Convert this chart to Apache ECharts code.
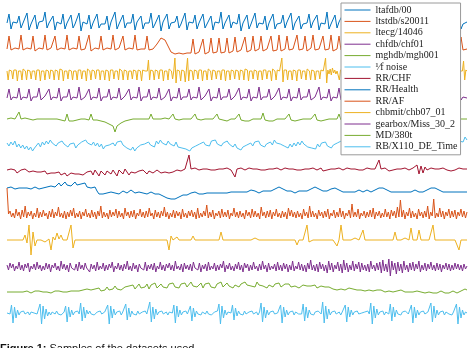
<!DOCTYPE html>
<html><head><meta charset="utf-8">
<script src="https://cdn.jsdelivr.net/npm/echarts@6/dist/echarts.min.js"></script>
<style>html,body{margin:0;padding:0;background:#fff}#c{width:474px;height:348px}</style>
</head><body><div id="c"></div>
<script>
const names = ['ltafdb/00','ltstdb/s20011','ltecg/14046','chfdb/chf01','mghdb/mgh001','1/f noise','RR/CHF','RR/Health','RR/AF','chbmit/chb07_01','gearbox/Miss_30_2','MD/380t','RB/X110_DE_Time'];
const colors = ['#0072BD','#D95319','#EDB120','#7E2F8E','#77AC30','#4DBEEE','#A2142F','#0072BD','#D95319','#EDB120','#7E2F8E','#77AC30','#4DBEEE'];
const centers = [24,49,71,98,119,145,171,191,214,240,267,288,313];

const ltafdb = [1,10,-5,2, 0,1,8,-4,1, 2,11,-6,0, 1,9,-5,2,0, 3,12,-4,1, 0,8,-6,2, 1,0,10,-5,1, 2,9,-4,0, 1,11,-7,2,1, 0,9,-5,1, 2,10,-4,0, 1,0,8,-6,2, 1,12,-5,0, 2,9,-4,1,0, 1,10,-6,2, 0,8,-5,1, 2,1,11,-4,0, 1,9,-7,2, 0,10,-5,1,1, 2,8,-4,0, 1,11,-6,2, 0,1,9,-5,1, 2,10,-4,0, 1,8,-6,2,0, 1,12,-5,1, 0,9,-4,2, 1,0,10,-7,1, 2,9,-5,0, 1,11,-4,1,2, 0,8,-6,1, 2,10,-5,0, 1,1,9,-4,2, 0,11,-6,1, 2,8,-5,0,1, 1,10,-4,2, 0,9,-6,1, 2,0,12,-5,0, 1,9,-4,2, 0,10,-6,1,1, 2,8,-5,0, 1,11,-4,2, 0,1,9,-6,1, 2,10,-5,0, 1,8,-4,1,2, 0,11,-6,1, 2,9,-5,0, 1,0,10,-4,2, 0,9,-6,1, 2,11,-5,0,1, 1,8,-4,2, 0,10,-6,1, 2,1,9,-5,0, 1,2];

const ltstdb = [0,13,-1,0,1,0, 0,14,-1,1,1,0, 0,13,-2,0,1, 0,0,14,-1,1,1, 0,13,-1,0,1,0, 0,14,-1,0,1, 0,0,13,-1,1,0, 0,14,-2,0,1,0, 0,13,-1,1,1, 0,0,14,-1,0,1, 0,13,-1,0,1,0, 0,14,-1,1,0, 0,0,13,-1,1,0, 2,5,8,11,12,9,5,1,-3,-4,-5,-4, -4,-4,-5,-4,-4,-4, -4,10,-5,-4,-3, -4,10,-5,-3, -3,11,-4,-3, -3,11,-4,-2, -3,11,-4,-2,-2, 12,-3,-2,-1, -2,12,-3,-1, -1,13,-2,-1,0, 13,-2,-1,0, -1,13,-2,0, -1,14,-2,0,0, 13,-1,0,0, 0,14,-1,0, 0,13,-2,0,1, 14,-1,0,0, 0,13,-1,1, 0,14,-2,0,0, 13,-1,0,1, 0,14,-1,0, 0,13,-1,0,1, 14,-2,0,0, 0,13,-1,1, 0,14,-1,0,0, 13,-1,0,1, 0,14,-2,0, 0,13,-1,0,1, 14,-1,0,0, 0,13,-1,1, 0,14,-2,0,0, 13,-1,0,1, 0,14,-1,0, 0,12,-1,0,0];

const ltecg = [
 0,-9,1,0, 0,-8,1,0, 1,-10,0,0, 0,-9,2,0, 0,-9,1,0, 0,-8,0,1, 0,-9,1,0, 1,-10,0,0, 0,-9,1,0, 0,-8,1,0,
 0,-9,1,0, 0,-9,2,0, 1,-10,0,0, 0,-8,1,0, 0,-9,0,1, 0,-9,1,0, 1,-8,0,0, 0,-10,2,0, 0,-9,1,0, 0,-8,1,0,
 1,-9,0,0, 0,-9,1,0, 0,-10,1,0, 1,-8,0,0, 0,-9,2,0, 0,-9,1,0, 0,-9,0,1, 0,-8,1,0, 0,-9,1,0, 0,-10,1,0,
 0,0,0, 11,-9,1,0,
 0,-9,1,0, 0,-8,1,0, 1,-10,0,0, 0,-9,2,0, 0,-8,0,
 13,-12,1,0, 0,-10,1,0, 0,-11,1, 13,-10,1,0,
 0,-9,1,0, 0,-8,1,0, 1,-10,0,0, 0,-9,2,0, 0,-9,1,0, 0,-8,0,1, 0,-9,1,0, 1,-10,0,0, 0,-9,1,0, 0,-8,1,0,
 0,-9,1,0, 0,-9,2,0, 1,-10,0,0, 0,-8,1,0, 0,-9,0,1, 0,-9,1,0, 1,-8,0,0, 0,-10,2,0, 0,-9,1,0, 0,0,
 13,-11,1,0,
 1,-9,0,0, 0,-9,1,0, 0,-10,1,0, 1,-8,0,0, 0,-9,2,0, 0,-9,1,0, 0,-9,0,1, 0,-8,1,0, 0,0,
 13,-12,1, -3,2,-4,3,-2,1,-3,0,
 0,-9,1,0, 0,-8,1,0, 1,-10,0,0, 0,-9,2,0, 0,-9,1,0, 0,-8,0,1, 0,-9,1,0, 1,-10,0,0, 0,-9,1,0, 0,-8,1,0,
 0,-9,1,0, 0,-9,2,0, 1,-10,0,0, 0,-8,1,0, 0,-9,0,1, 0,-9,1,0, 1,-8,0,0, 0,-10,2,0, 0,-9,1,0, 0,-8,1,0,
 1,-9,0,0, 0,-9,1,0, 0,-10,1,0, 1,-8,0,0, 0,-9,2,0, 0,-9,1,0, 0,-9,0,1, 0,
 10,-9,1,0];

const chfdb = [0,9,-2,1,2, 0,10,-2,1,1, 0,9,-3,1,2, 1,10,-2,0,2, 0,9,-2,1,1, 0,10,-3,1,2, 1,9,-2,1,2, 0,11,-2,0,1, 0,9,-2,1,2, 0,10,-3,1,1,
 1,9,-2,1,2, 0,10,-2,0,2, 0,9,-2,1,1, 0,11,-3,1,2, 1,9,-2,1,2, 0,10,-2,0,1, 0,9,-3,1,2, 0,10,-2,1,2, 1,9,-2,1,1, 0,11,-2,0,2,
 0,9,-3,1,2, 0,10,-2,1,1, 1,9,-2,0,2, 0,10,-2,1,2, 0,9,-3,1,1, 0,11,-2,1,2, 1,9,-2,0,2, 0,10,-2,1,1, 0,9,-3,1,2, 0,10,-2,1,2,
 1,9,-2,0,1, 0,11,-2,1,2, 0,9,-3,1,2, 0,10,-2,0,1, 1,9,-2,1,2, 0,10,-3,1,2, 0,9,-2,1,1, 0,11,-2,0,2, 1,9,-2,1,2, 0,10,-3,1,1,
 0,9,-2,1,2, 0,10,-2,0,2, 1,9,-2,1,1, 0,11,-3,1,2, 0,9,-2,1,2, 0,10,-2,1,1, 0];

const mghdb = [0,0,1,0,0,0,7,0,0,1,0,0, 0,-1,0,0,1,0,0,0,-1,0,0,0, 0,0,-1,-1,-2,-2,5,-2,-2,-2,-1,-1, 0,0,0,0,0,-1,5,-1,0,-1,-1,-2,
 -2,-3,-4,-5,-6,-7,-13,-7,-6,-4,-3,-2, -1,-1,0,0,0,0,0,0,1,0,0,0, 5,0,0,0,0,0,0,1,0,0,0,5, 0,0,-1,0,0,0,0,0,0,0,5,0,
 0,-1,-1,0,0,0,0,0,0,5,0,-1, -1,-2,-2,-1,0,0,0,0,5,-1,-1,-2, -2,-2,-1,0,0,0,0,0,6,-1,-1,-2, -2,-2,-1,0,0,0,0,0,0,5,-1,-2,
 -2,-2,-1,-1,0,0,0,0,0,0,5,-1, -1,-2,-2,-1,0,0,0,0,0,0,5,-1, -1,-2,-2,-1,0,0,0,0,0,0,5,-1, -1,-1,-2,-1,0,0,0,0,0,0,5,0,
 -1,-1,-2,-1,0,0,0,0,0,0,5,0, -1,-1,-2,-1,0,0,0,0,0,0,5,0, -1,-1,-2,-1,0,0,0,0,0,5,0,0, 0,0,0];

const oneOverF = [2,-1,3,0,4,-2,1,-3,0,-4,-1,-5,-2,-6,-3,-1,2,-2,3,0,4,1,5,2,3,-1,2,0,4,1,
 3,-2,1,-1,2,-3,0,-2,3,1,5,2,4,0,3,-1,2,-2,1,-4,-1,-3,0,-2,2,-1,3,1,4,0,
 2,-3,-1,-5,-2,-6,-3,-4,0,-2,1,-1,3,0,2,-2,4,1,5,2,3,0,4,1,2,-1,3,-2,0,-3,
 -1,-4,-2,-6,-3,-5,-1,-3,1,-1,3,0,2,-1,4,2,5,1,3,-1,2,0,4,1,3,-2,1,-3,-1,-5,
 -2,-4,0,-2,2,-1,3,1,4,0,2,-2,1,-1,3,0,5,2,4,1,2,-1,0,-3,1,-2,2,-1,3,0,
 4,1,2,-2,0,-3,-1,-4,1,-2,2,0,3,-1,1,-3,0,-2,2,1,4,2,5,1,3,0,2,-2,1,-1,
 3,0,2,-3,-1,-4,0,-2,2,1,4,0,3,-1,2,-2,0,-4,-2,-3,1,-1,2,0,4,2,3,-1,1,-2,
 0,-3,2,-1,3,1,5,2,4,0,2,-1,3,-2,1,-3,0,-1,2,1,4,6,3,8,5];

const rrChf = [1,-1,2,0,1,-2,0,1,-1,2,0,-1,1,0,2,-1,0,
 -1,-2,0,-3,-1,-2,-4,-2,-3,-1,-4,-3,-2,-5,-3,-2,-4,-3,-1,-3,-2,-4,-2,-1,-3,
 0,-4,1,-1,-5,0,1,-4,0,2,-3,1,0,-5,1,0,-3,2,0,-4,
 -1,0,-2,-1,0,-2,1,-1,-3,0,-1,-2,0,1,-1,-2,0,-1,1,-2,0,-1,0,1,-1,
 0,1,2,1,16,2,1,3,2,1,3,2,0,2,3,1,2,1,3,2,0,2,1,3,2,
 1,2,-6,2,1,3,2,1,2,3,1,2,0,2,3,1,2,1,3,2,1,2,0,3,2,
 1,2,3,1,2,0,2,3,1,2,1,3,2,0,2,1,3,2,1,2,3,0,2,1,3,
 2,1,2,0,3,2,1,2,3,1,2,0,2,3,1,2,1,2,3,1,2,0,2,1,11,
 2,1,3,2,0,2,1,3,2,1,2,0,3,2,1,2,3,1,6,-3,5,-2,4,1,2,
 3,1,2,0,2,1,3,2,1,2,0,2,1,2,3,1,2,1,2];

const rrHealth = [3,2,4,3,2,4,3,5,3,2,3,4,2,3,4,3,2,
 4,3,5,4,6,5,7,4,6,8,5,7,9,6,8,5,7,9,6,4,7,5,8,4,6,3,5,4,
 0,-3,-2,-3,-1,
 -2,-3,-1,0,-2,-1,-3,-2,0,-1,-2,0,1,-1,-2,-3,-1,0,-2,-1,-3,-2,-1,-2,-3,-2,
 -3,-4,-5,-6,-7,-8,-8,-9,-8,-7,
 -6,-5,-4,-3,-4,-3,-2,-3,-1,-2,-3,-2,-3,-1,-2,-3,-2,-1,-2,-3,-2,-1,-2,-1,-2,-3,-1,-2,-1,
 -2,-1,0,-1,-2,-1,0,1,-1,0,-1,-2,-1,0,1,0,-1,0,1,2,3,4,3,2,1,
 0,-1,0,-1,-2,-1,0,-1,0,1,0,1,2,3,4,3,2,1,0,-1,0,1,2,4,3,
 2,1,0,-1,0,-1,-2,-1,0,-1,0,1,0,-1,0,1,0,-1,0,1,2,3,4,3,2,
 1,0,-1,0,-1,-2,-1,0,-1,0,-1,-2,-1,0,1,0,-1,0,-1,0,1,2,3,4,3,
 2,1,0,-1,-2,-1,0,-1,-2,-1,0,-1,-2,-1,-2,-1];

const rrAf = [26,0,
 3,-3,1,-4,5,-2,2,-5,4,-3,8,-4,2,-2,3,-5,1,-3,6,-4,2,-3,4,-2,1,-5,3,-3,
 5,-4,2,-2,7,-3,1,-4,3,-5,2,-3,4,-2,6,-4,1,-3,3,-5,2,-2,5,-3,1,-4,4,-3,2,-5,
 3,-2,8,-4,2,-3,1,-5,4,-3,2,-2,5,-4,3,-3,1,-5,6,-2,2,-4,3,-3,4,-5,1,-2,5,-3,
 2,-4,3,-3,6,-2,1,-5,4,-3,2,-4,3,-2,7,-3,2,-5,1,-3,4,-4,3,-2,2,-5,5,-3,1,-4,
 3,-2,4,-3,2,-5,6,-4,1,-3,3,-2,9,-4,2,-3,4,-5,1,-2,3,-4,5,-3,2,-3,4,-5,1,-2,
 6,-3,2,-4,3,-3,1,-5,4,-2,2,-4,5,-3,3,-3,1,-5,7,-2,2,-4,3,-3,4,-5,2,-2,5,-3,
 1,-4,3,-3,2,-5,6,-2,4,-3,2,-4,3,-3,1,-5,5,-2,2,-4,8,-3,3,-3,1,-5,4,-2,2,-4,
 3,-3,5,-5,1,-2,4,-4,2,-3,6,-3,3,-5,1,-2,4,-4,10,-3,2,-3,5,-5,1,-2,3,-4,2,-3,
 4,-3,6,-5,2,-2,3,-4,1,-3,5,-3,2,-5,4,-2,3,-4,7,-3,14,-3,4,-5,2,-2,6,-4,3,-3,
 1,-5,5,-2,2,-4,3,-3,8,-5,2,-2,15,-4,1,-3,6,-3,3,-5,2,-2,5,-4,3,-3,4,-5,2,-2,
 5,-3,3,-4,2];

const chbmit = [0,0,0,0,0,0,0,1,0,5,-3,15,-15,8,-6,0,1,0,0,-2,
 0,1,-10,3,0,7,1,5,0,1,0,0,15,-8,0,0,0,0,0,0,
 0,0,0,0,0,0,0,0,0,0,0,0,0,0,0,0,0,0,0,0,
 0,0,0,0,0,0,0,0,0,0,0,0,0,0,0,0,0,0,0,0,
 0,-10,4,0,0,3,0,0,0,0,0,0,0,4,0,1,0,0,0,0,
 0,0,0,0,0,0,0,8,0,0,0,0,0,0,0,0,0,0,0,0,
 0,0,0,0,2,0,0,0,0,0,0,0,0,0,0,0,0,0,0,0,
 0,-2,0,0,0,-5,0,0,0,0,15,-2,0,0,0,0,2,0,0,0,
 0,0,0,0,0,-6,0,15,0,0,0,0,0,0,2,0,0,0,10,0,
 0,0,0,0,0,0,0,0,0,0,0,0,0,0,8,0,0,0,0,2,
 0,0,12,0,0,0,10,0,0,0,0,0,0,15,0,0,0,0,0,0,
 0,0,0,0,0,0,-10,0,0,0,0];

const gearbox = [2,-3,4,-1,3,-4,1,-2,5,-3,2,-4,3,-1,4,-5,1,-2,3,-3,5,-2,2,-4,1,-3,4,-2,3,-5,
 2,-1,4,-3,1,-4,6,-2,3,-3,2,-5,4,-1,1,-3,3,-4,5,-2,2,-3,4,-1,1,-5,3,-2,2,-4,
 5,-3,1,-2,4,-4,2,-3,3,-1,5,-5,1,-2,4,-3,2,-4,3,-2,6,-3,1,-4,4,-2,2,-5,3,-1,
 1,-3,5,-4,2,-2,3,-3,4,-5,1,-2,5,-3,2,-4,3,-1,4,-3,2,-4,6,-2,1,-3,3,-5,4,-2,
 2,-3,3,-4,5,-1,1,-3,4,-5,2,-2,3,-4,5,-3,1,-2,4,-4,2,-3,3,-1,6,-5,2,-2,4,-3,
 1,-4,3,-2,5,-3,2,-5,4,-1,3,-4,2,-3,5,-2,1,-4,3,-3,6,-2,2,-5,4,-3,1,-2,3,-4,
 5,-3,2,-4,4,-2,3,-5,2,-3,6,-4,1,-2,5,-3,3,-4,2,-5,4,-2,7,-3,2,-4,3,-5,5,-2,
 3,-4,2,-6,6,-3,4,-5,2,-2,5,-4,3,-6,7,-3,4,-5,2,-3,6,-4,3,-2,5,-5,4,-3,2,-4,
 3,-5,6,-2,2,-4,4,-3,5,-6,7,-4,3,-5,8,-9,6,-3,4,-7,5,-4,3,-6,6,-3,2,-5,4,-3,
 5,-4,3,-2,6,-5,2,-3,4,-4,3,-2,5,-3,2,-4,4,-3,3,-5,2,-2,4,-3,3,-4,2,-3,4,-2,
 3,-3,2,-4,3,-2,1];

const md380 = [-4,-3,-4,-3,-4,-5,-4,-3,-4,-4,-3,-4,-5,-4,-3,-4,-3,-4,-4,-3,
 -4,-3,-5,-4,-3,-4,-3,-2,-4,-3,-4,-2,-3,-5,-3,-2,-3,-4,-2,-3,
 -1,-3,-2,-4,-1,-2,0,-3,-1,-2,1,-2,0,-1,2,-1,1,-2,0,1,
 -1,2,0,3,-1,1,4,0,2,1,4,-1,3,1,5,0,2,4,1,3,
 0,4,2,5,1,3,0,4,2,5,1,3,6,2,4,1,3,5,0,4,
 2,5,1,3,0,4,2,6,1,3,5,2,4,0,3,5,1,4,2,6,
 3,5,2,4,1,6,3,5,2,4,0,3,5,1,4,2,5,1,3,4,
 2,4,1,3,2,3,0,2,3,1,2,0,2,1,3,0,1,2,0,1,
 -1,1,0,-1,1,-2,0,-1,0,-2,-1,0,-2,-1,-1,-2,0,-2,-1,-3,
 -1,-2,-2,-3,-1,-2,-3,-2,-3,-4,-2,-3,-2,-4,-3,-3,-4,-2,-3,-4,
 -3,-4,-3,-4,-5,-3,-4,-4,-3,-5,-4,-4,-3,-5,-4,-5,-4,-3,-4,-5,
 -4,-5,-4,-3,-4,-5,-4,-3,-2,-1,-2];

const rbX110 = [0,1,-1, 8,-10,6,-5,3,-2, 1,-1,2,-1,0,1,-2,1,-1,0,2,-1,1, 9,-11,7,-6,4,-3, 1,-2,1,0,-1,2,-1,1,-2,0,1,
 7,-9,6,-4,3,-2, 1,-1,2,-1, 10,-8,6,-5,3, -1,2,-1,1,-2,0,1,-1,2,-1,0,1,-1, 8,-11,7,-5,4,-2, 1,-1,2,-2,1,0,
 9,-7,5,-4,2, -1,1,-2,2,-1,0,1,-1,2,-1,1, 11,-9,6,-6,4,-2, 1,-1,2,-1,0,1,-2,1,-1,0, 8,-10,7,-4,3,-2, 1,-1,2,-1,1,
 7,-8,5,-4,2, -1,1,-2,1,0,-1,2,-1,1,-2,0,1,-1,2, 9,-11,7,-5,3,-2, 1,-1,0, 8,-7,5,-3,2,
 -1,1,-2,2,-1,0,1,-1,2,-1,0,1,-2,1, 10,-9,6,-5,3,-2, 1,-1,2,-1,1,0,-1, 8,-10,6,-4,3,-2, 1,-1,2,-2,1,0,-1,1,-1,
 9,-8,6,-5,3,-1, 1,-2,1,-1,2,0,-1, 11,-10,7,-6,4,-2, 1,-1,2,-1,0,1,-2,1,-1, 8,-9,6,-4,3,-2, 1,-1,2,-1,1,0,-2,1,-1,2,-1,
 10,-11,7,-5,4,-2, 1,-1,2,-2,1,0,-1, 9,-8,6,-4,3,-1, 1,-2,1,-1,2,0,-1,1, 8,-10,6,-5,3,-2, 1,-1,2,-1,0,1,-1,
 10,-9,7,-5,3,-2, 1,-1,2,-2,1,0,-1,1,-2,1,0, 9,-11,6,-5,3,-2, 1,0];

const traces = [ltafdb, ltstdb, ltecg, chfdb, mghdb, oneOverF, rrChf, rrHealth, rrAf, chbmit, gearbox, md380, rbX110];

const grids = [], xAxes = [], yAxes = [], series = [];
traces.forEach((d, k) => {
  grids.push({left: 7, right: 7, top: centers[k] - 15, height: 30});
  xAxes.push({type: 'value', gridIndex: k, min: 0, max: d.length - 1, show: false});
  yAxes.push({type: 'value', gridIndex: k, min: -15, max: 15, show: false});
  series.push({
    name: names[k], type: 'line', xAxisIndex: k, yAxisIndex: k,
    data: d.map((v, i) => [i, v]), symbol: 'none', showSymbol: false, clip: false,
    lineStyle: {width: 1, color: colors[k]}, itemStyle: {color: colors[k]},
    emphasis: {disabled: true}
  });
});

const chart = echarts.init(document.getElementById('c'), null, {renderer: 'canvas'});
chart.setOption({
  animation: false,
  backgroundColor: '#fff',
  grid: grids, xAxis: xAxes, yAxis: yAxes, series: series,
  legend: {
    data: names, orient: 'vertical', left: 341, top: 3,
    backgroundColor: '#fff', borderColor: '#9a9a9a', borderWidth: 1,
    padding: [2, 3, 3, 3], itemWidth: 26, itemHeight: 10, itemGap: 1.4,
    selectedMode: false,
    itemStyle: {opacity: 0, borderWidth: 0},
    lineStyle: {width: 1},
    formatter: n => n === '1/f noise' ? '\u00B9\u2044f noise' : n,
    textStyle: {fontFamily: 'Liberation Serif', fontSize: 10, lineHeight: 10, color: '#222'}
  },
  graphic: [{
    type: 'text', left: 0, top: 343,
    style: {
      text: '{b|Figure 1:} Samples of the datasets used.',
      rich: {b: {fontWeight: 'bold', fontFamily: 'Liberation Sans', fontSize: 11, fill: '#111'}},
      font: '11px "Liberation Sans"', fill: '#111'
    }
  }]
});
</script>
</body></html>
